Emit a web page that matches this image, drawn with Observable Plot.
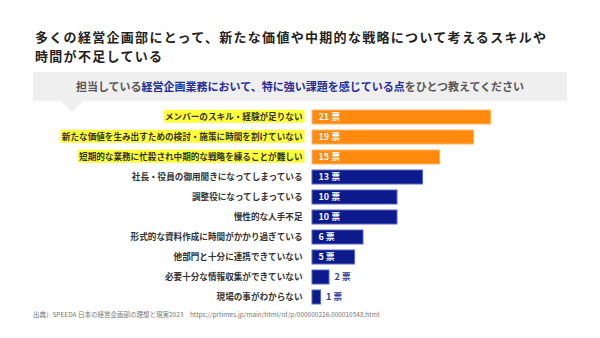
<!DOCTYPE html>
<html lang="ja">
<head>
<meta charset="utf-8">
<script src="https://cdn.jsdelivr.net/npm/d3@7"></script>
<script src="https://cdn.jsdelivr.net/npm/@observablehq/plot@0.6"></script>
<style>
  html, body { margin: 0; padding: 0; background: #fff; }
  body { font-family: "Noto Sans CJK JP", "Noto Sans", sans-serif; }
  #wrap { position: relative; width: 600px; height: 338px; overflow: hidden; }
  .tline { position: absolute; left: 35px; font-size: 13px; line-height: 15px; font-weight: 700; color: #222; letter-spacing: 1.3px; white-space: nowrap; }
  #t1 { top: 28.5px; }
  #t2 { top: 47.8px; }
  #qbox { position: absolute; left: 33px; top: 72px; width: 534px; height: 29px; background: #efefef; font-size: 11px; line-height: 29px; text-align: center; color: #555; font-weight: 700; }
  #qbox .em { color: #1f2e96; }
  #qbox::after { content: ""; position: absolute; left: 28px; top: 29px; border-left: 11px solid transparent; border-right: 11px solid transparent; border-top: 11px solid #efefef; }
  #chart { position: absolute; left: 0; top: 101px; }
  #caption { position: absolute; left: 33px; top: 309px; font-size: 6.5px; line-height: 10px; color: #777; white-space: nowrap; }
  #chart svg g[aria-label="y-axis tick label"] text { font-weight: 700; }
</style>
</head>
<body>
<div id="wrap">
  <div class="tline" id="t1">多くの経営企画部にとって、新たな価値や中期的な戦略について考えるスキルや</div>
  <div class="tline" id="t2">時間が不足している</div>
  <div id="qbox">担当している<span class="em">経営企画業務において、特に強い課題を感じている点</span>をひとつ教えてください</div>
  <div id="chart"></div>
  <div id="caption">出典）SPEEDA 日本の経営企画部の理想と現実2023　https://prtimes.jp/main/html/rd/p/000000226.000010548.html</div>
</div>
<script>
const labels = [
  "メンバーのスキル・経験が足りない",
  "新たな価値を生み出すための検討・施策に時間を割けていない",
  "短期的な業務に忙殺され中期的な戦略を練ることが難しい",
  "社長・役員の御用聞きになってしまっている",
  "調整役になってしまっている",
  "慢性的な人手不足",
  "形式的な資料作成に時間がかかり過ぎている",
  "他部門と十分に連携できていない",
  "必要十分な情報収集ができていない",
  "現場の事がわからない"
];
const votes = [21, 19, 15, 13, 10, 10, 6, 5, 2, 1];
const highlighted = [
  "メンバーのスキル・経験が足りない",
  "新たな価値を生み出すための検討・施策に時間を割けていない",
  "短期的な業務に忙殺され中期的な戦略を練ることが難しい"
];
const unit = " 票";

const ORANGE = "#ff8a0d", ORANGE_EDGE = "#ffb466";
const NAVY = "#0c1a8c", NAVY_EDGE = "#5566c4";

const data = labels.map((label, i) => ({label, votes: votes[i], hi: highlighted.includes(label)}));
const hiData = data.filter(d => d.hi);
const loData = data.filter(d => !d.hi);

const chart = Plot.plot({
  width: 600,
  height: 212,
  marginLeft: 312,
  marginRight: 109.5,
  marginTop: 0,
  marginBottom: 0,
  style: { fontFamily: '"Noto Sans CJK JP", sans-serif', color: "#333", background: "transparent" },
  x: { domain: [0, d3.max(votes)], axis: null },
  y: { domain: labels, padding: 0.3, axis: null },
  marks: [
    Plot.barX(hiData, { x: "votes", y: "label", fill: ORANGE, stroke: ORANGE_EDGE, strokeWidth: 1 }),
    Plot.barX(loData, { x: "votes", y: "label", fill: NAVY, stroke: NAVY_EDGE, strokeWidth: 1 }),
    Plot.text(data.filter(d => d.votes >= 5), { x: 0, y: "label", text: d => d.votes + unit, dx: 6, textAnchor: "start", fill: "white", fontSize: 9, fontWeight: 700 }),
    Plot.text(data.filter(d => d.votes < 5), { x: "votes", y: "label", text: d => d.votes + unit, dx: 5, textAnchor: "start", fill: "#2a3aa0", fontSize: 9, fontWeight: 700 }),
    Plot.axisY({ tickSize: 0, tickPadding: 10, fontSize: 8.6, label: null })
  ]
});
document.getElementById("chart").appendChild(chart);

// yellow highlight behind the focus labels
const tickTexts = chart.querySelectorAll('g[aria-label="y-axis tick label"] text');
tickTexts.forEach(t => {
  if (highlighted.includes(t.textContent)) {
    const bb = t.getBBox();
    const rect = document.createElementNS("http://www.w3.org/2000/svg", "rect");
    const ctm = t.getAttribute("transform");
    rect.setAttribute("x", bb.x - 1.5);
    rect.setAttribute("y", bb.y + bb.height / 2 - 6.5);
    rect.setAttribute("width", bb.width + 3);
    rect.setAttribute("height", 13);
    rect.setAttribute("fill", "#ffff3a");
    if (ctm) rect.setAttribute("transform", ctm);
    t.parentNode.insertBefore(rect, t);
  }
});
</script>
</body>
</html>
